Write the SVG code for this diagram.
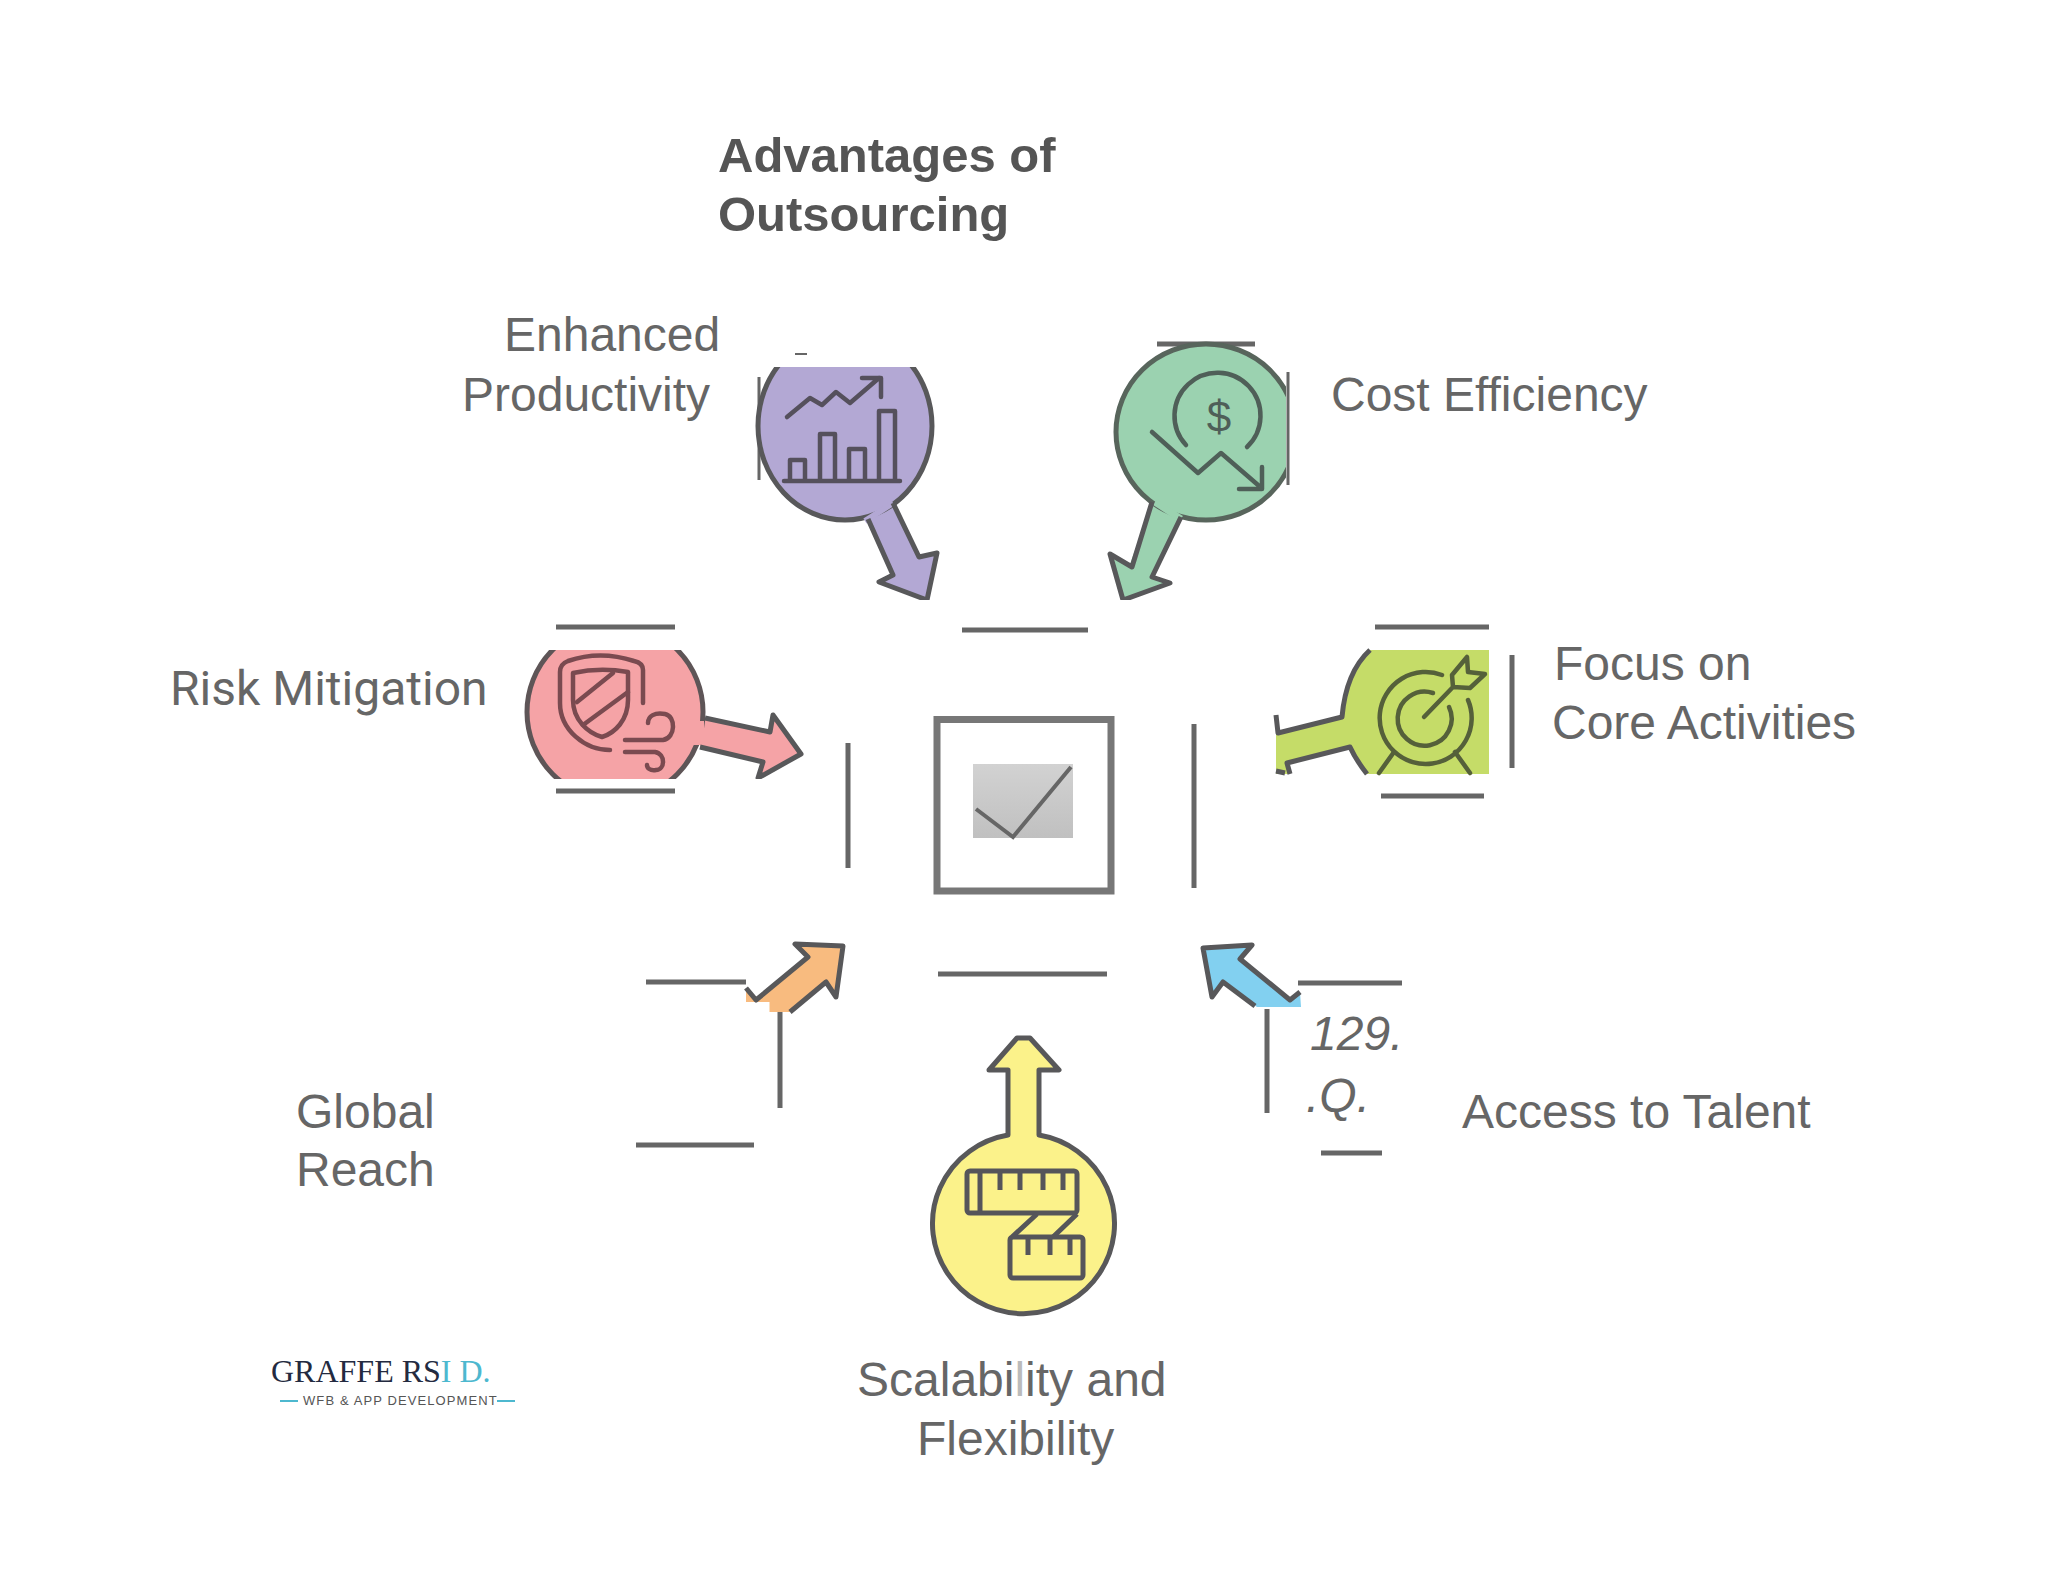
<svg xmlns="http://www.w3.org/2000/svg" width="2048" height="1582" viewBox="0 0 2048 1582">
<style>
text{font-family:"Liberation Sans",Arial,sans-serif;fill:#666;font-size:48px}
.b{font-weight:700;fill:#555;font-size:49px}
.l{fill:none;stroke:#666;stroke-width:5}
.o{fill:none;stroke:#58585a;stroke-width:5;stroke-linejoin:round}
.i{fill:none;stroke-width:4.5;stroke-linecap:round;stroke-linejoin:round}
</style>
<defs>
<clipPath id="cp"><rect x="750" y="367" width="200" height="233"/></clipPath>
<clipPath id="cg"><rect x="1100" y="340" width="186" height="260"/></clipPath>
<clipPath id="cr"><rect x="510" y="650" width="300" height="129"/></clipPath>
<linearGradient id="gr" x1="0" y1="0" x2="0" y2="1"><stop offset="0" stop-color="#d2d2d2"/><stop offset="1" stop-color="#c0c0c0"/></linearGradient>
</defs>
<rect width="2048" height="1582" fill="#fff"/>
<g id="title"><text class="b" x="718" y="172">Advantages of</text><text class="b" x="718" y="231">Outsourcing</text></g>

<g id="connectors">
<path class="l" d="M759 377V480M1157 344H1255M1288 372V485" style="stroke-width:3"/>
<path d="M795 354H807" stroke="#666" stroke-width="2"/>
<path class="l" d="M1157 344H1255"/>
<path class="l" d="M556 627H675M556 791H675M848 743V868M962 630H1088M1194 724V888M938 974H1107"/>
<path class="l" d="M1375 627H1489M1381 796H1484M1512 655V768"/>
<path class="l" d="M646 982H746M636 1145H754M780 1010V1108M1267 1009V1113M1298 983H1402M1321 1153H1382"/>
</g>

<g id="center">
<rect x="937" y="719.500" width="174" height="171.500" fill="#fff" stroke="#777" stroke-width="7"/>
<rect x="973" y="764" width="100" height="74" fill="url(#gr)"/>
<path d="M976 809L1013 837L1071 767" fill="none" stroke="#666" stroke-width="4"/>
</g>

<g id="productivity">
<g clip-path="url(#cp)">
<path d="M868 517L893 575L879 582L927 602L937 553L919 557L893 503" fill="#b3a8d4"/>
<ellipse cx="845" cy="426" rx="87" ry="94" fill="#b3a8d4" stroke="#58585a" stroke-width="5"/>
<path d="M865 521L893 503" stroke="#b3a8d4" stroke-width="6"/>
<path class="o" d="M868 519L893 575L879 582L927 600L937 553L919 557L893 503"/>
</g>
<g class="i" stroke="#55505c">
<path d="M787 417L810 398L822 405L836 392L850 403L879 378M862 378H881V397"/>
<path d="M790 480V460H805V480M820 480V434H835V480M849 480V449H865V480M879 480V411H895V480M784 481H900"/>
</g>
<text x="504" y="351">Enhanced</text><text x="462" y="411">Productivity</text>
</g>

<g id="cost">
<g clip-path="url(#cg)">
<path d="M1152 502L1129 567L1110 554L1123 600L1170 583L1152 577L1181 517" fill="#9bd2b0"/>
<ellipse cx="1206" cy="432" rx="90" ry="88" fill="#9bd2b0" stroke="#58655c" stroke-width="5"/>
<path d="M1155 502L1181 519" stroke="#9bd2b0" stroke-width="7"/>
<path class="o" d="M1152 502L1132 567L1110 554L1123 600L1170 583L1152 577L1181 517" stroke="#58655c"/>
</g>
<g class="i" stroke="#4f5f58">
<path d="M1186 445A43 43 0 1 1 1247 447"/>
<path d="M1152 432L1198 473L1221 453L1258 485M1239 489H1262V467"/>
</g>
<text x="1219" y="432" text-anchor="middle" style="font-size:44px;fill:#4f5f58">$</text>
<text x="1331" y="411">Cost Efficiency</text>
</g>

<g id="risk">
<g clip-path="url(#cr)">
<path d="M705 718L770 732L773 715L801 754L758 778L763 762L700 747Z" fill="#f5a3a6"/>
<circle cx="615" cy="712" r="88" fill="#f5a3a6" stroke="#5e5557" stroke-width="5"/>
<path d="M698 721L698 745" stroke="#f5a3a6" stroke-width="12"/>
<path class="o" d="M705 718L770 732L773 715L801 754L758 778L763 762L700 747" stroke="#5e5557"/>
<rect x="520" y="650" width="0" height="0"/>
</g>
<g class="i" stroke="#7a4a50">
<path d="M643 703V670Q643 663 634 661Q600 650 568 661Q560 664 560 672V703C560 730 585 750 610 750"/>
<path d="M573 673Q600 667 628 672V700C628 720 615 733 602 737C588 733 573 720 573 700Z"/>
<path d="M577 702L613 673M583 725L628 692"/>
<path d="M625 740H663C676 738 676 716 665 714C655 712 648 716 648 723"/>
<path d="M625 752H655C666 754 665 770 656 770C650 771 647 768 647 765"/>
</g>
<text x="170" y="705" style="font-family:Roboto,'Liberation Sans',sans-serif;font-size:48px">Risk Mitigation</text>
</g>

<g id="focus">
<path d="M1370 650H1489V774H1367Q1356 760 1350 747L1287 763L1290 774H1276V733L1342 717Q1345 675 1370 650Z" fill="#c5dc68"/>
<path class="o" d="M1370 650Q1346 672 1342 717L1278 733L1276 715M1367 774Q1356 760 1350 747L1287 763L1290 774M1276 771L1285 773" stroke="#55604a"/>
<g class="i" stroke="#55603a">
<path d="M1442 675A46 46 0 1 0 1468 700"/>
<path d="M1433 693A27 27 0 1 0 1449 707"/>
<path d="M1424 717L1453 687M1453 687L1452 675L1467 657L1468 672L1485 674L1470 688Z"/>
<path d="M1394 752L1379 773M1455 752L1470 773"/>
</g>
<text x="1554" y="680">Focus on</text><text x="1552" y="739">Core Activities</text>
</g>

<g id="global">
<path d="M843 946L795 944L808 957L756 1000L746 990V1002H769.500V1012H790L826 982L836 997Z" fill="#f8bb7f"/>
<path class="o" d="M746 988L756 1000L808 957L795 944L843 946L836 997L826 982L790 1012"/>
<text x="296" y="1128">Global</text><text x="296" y="1186">Reach</text>
</g>

<g id="scalability">
<path d="M1008 1135V1070H989L1017 1038H1030L1059 1070H1039V1135A91 90 0 1 1 1008 1135Z" fill="#fbf28a" stroke="#58585a" stroke-width="5" stroke-linejoin="round"/>
<g fill="none" stroke="#55555a" stroke-width="5" stroke-linejoin="round">
<rect x="967" y="1171" width="110" height="42" rx="3"/>
<path d="M980 1171V1213M1000 1171V1190M1020 1171V1190M1043 1171V1190M1063 1171V1190"/>
<path d="M1037 1214L1012 1237M1077 1214L1053 1237"/>
<rect x="1010" y="1237" width="73" height="41" rx="3"/>
<path d="M1028 1237V1255M1050 1237V1255M1070 1237V1255"/>
</g>
<text x="857" y="1396">Scalabi<tspan fill="#bbb">l</tspan>ity and</text><text x="917" y="1455">Flexibility</text>
</g>

<g id="talent">
<path d="M1203 948L1252 945L1240 959L1290 1000L1300 992L1301 1007H1257L1223 982L1212 997Z" fill="#82d0f0"/>
<path class="o" d="M1300 992L1290 1000L1240 959L1252 945L1203 948L1212 997L1223 982L1255 1006"/>
<text x="1310" y="1050" font-style="italic">129.</text><text x="1306" y="1112" font-style="italic">.Q.</text>
<text x="1462" y="1128">Access to Talent</text>
</g>

<g id="logo">
<text x="271" y="1382" style="font-family:'Liberation Serif',serif;font-size:32px;fill:#232a40">GRAFFE RS<tspan fill="#4db8cf">I D.</tspan></text>
<text x="303" y="1405" style="font-size:13px;letter-spacing:1.100px;fill:#555">WFB &amp; APP DEVELOPMENT</text>
<path d="M280 1401H298M497 1401H515" stroke="#4db8cf" stroke-width="2"/>
</g>
</svg>
